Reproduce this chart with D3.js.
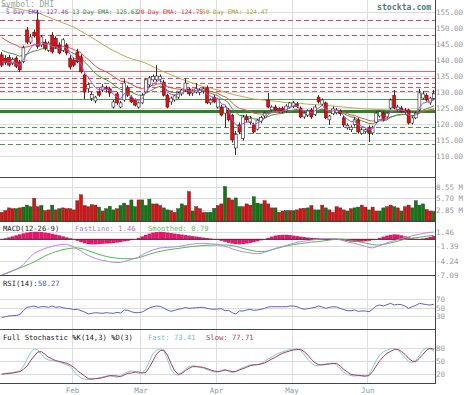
<!DOCTYPE html>
<html>
<head>
<meta charset="utf-8">
<script src="https://cdn.jsdelivr.net/npm/d3@7"></script>
<style>
  body { margin: 0; background: #fff; }
  svg { display: block; }
  text { font-family: "DejaVu Sans Mono", monospace; }
</style>
</head>
<body>
<svg id="chart" width="474" height="395"></svg>
<script>
// daily candles [open, high, low, close], first trading days of Jan .. late Jun
const candles = [
  [141.6,142.5,137.8,138.4],[140.5,141.5,138.5,139.2],[140.8,141.6,137.9,138.4],[139.0,140.8,138.4,140.2],
  [140.6,141.2,137.5,138.0],[139.4,140.0,136.2,136.9],[139.5,144.5,139.0,143.8],[149.4,150.3,145.0,145.6],
  [145.6,148.2,145.0,147.2],[148.7,149.5,147.0,147.5],[152.5,155.6,143.5,144.2],[144.7,147.8,144.0,147.2],
  [145.6,146.5,143.0,143.7],[143.0,145.8,142.5,145.3],[147.8,148.7,142.0,142.5],[146.8,147.4,143.5,144.0],
  [144.7,145.5,141.8,142.2],[143.0,146.8,142.5,146.3],[144.7,145.3,141.5,142.2],[140.6,141.5,137.0,137.8],
  [140.0,140.8,137.8,138.4],[142.5,143.5,139.0,139.4],[141.0,141.8,135.8,136.3],[135.3,135.8,127.8,130.0],
  [131.0,133.0,129.8,132.3],[128.0,130.0,127.2,129.2],[127.2,128.8,126.5,128.4],[130.0,131.2,128.5,129.0],
  [130.6,132.5,130.0,131.6],[131.3,132.0,129.8,131.0],[131.0,131.6,128.5,129.7],[125.3,127.5,124.8,126.9],
  [129.4,130.0,126.0,126.6],[125.3,127.2,124.9,126.6],[127.5,134.0,127.0,132.8],[131.3,132.0,128.5,129.0],
  [128.4,129.0,126.5,126.9],[127.5,128.0,125.5,125.9],[125.3,127.0,124.8,126.6],[126.6,129.6,126.2,129.0],
  [130.0,134.2,129.6,133.8],[132.2,135.0,131.5,134.4],[133.8,135.5,133.2,134.8],[133.8,138.4,133.0,135.0],
  [134.0,135.5,133.0,134.8],[133.1,133.8,128.6,129.0],[129.0,129.5,124.9,125.3],[126.9,128.6,126.0,128.1],
  [127.5,129.2,127.0,128.8],[128.4,130.0,127.8,129.7],[129.4,131.0,128.8,130.6],[130.6,134.4,130.0,132.8],
  [130.8,131.5,128.8,129.4],[129.7,130.8,128.8,130.3],[130.0,132.8,129.5,131.0],[129.8,131.2,129.0,130.6],
  [130.3,131.5,129.5,131.0],[131.3,132.0,126.2,126.6],[126.6,128.0,126.0,127.5],[128.4,129.0,126.5,126.9],
  [125.3,128.2,124.8,127.8],[125.3,126.0,122.4,122.8],[123.4,126.0,118.8,125.3],[124.4,125.0,120.8,121.3],
  [122.8,123.2,114.2,115.0],[112.5,117.8,110.3,116.8],[119.7,120.5,116.8,117.5],[115.5,122.8,114.8,122.2],
  [122.2,123.0,120.5,121.3],[120.5,122.5,119.8,121.8],[119.7,120.4,117.0,117.5],[118.4,121.6,118.0,121.2],
  [120.8,122.6,120.2,122.0],[122.5,124.0,121.8,123.4],[127.5,129.7,124.9,125.3],[124.4,125.8,123.8,125.3],
  [125.3,126.0,124.0,124.4],[124.8,125.2,123.5,124.1],[125.0,125.5,123.4,123.8],[124.1,126.2,123.5,125.6],
  [125.3,126.9,124.8,126.6],[125.5,127.2,125.0,126.6],[126.2,126.9,125.0,125.5],[125.0,125.5,121.8,122.2],
  [122.2,124.0,121.6,123.4],[122.8,124.6,122.2,124.1],[124.4,125.0,121.6,122.2],[123.0,126.0,122.5,125.3],
  [128.4,129.0,126.4,126.9],[126.2,128.0,125.8,127.5],[126.6,127.0,121.5,121.9],[121.3,122.8,119.7,122.5],
  [123.2,125.5,122.8,124.7],[123.5,125.0,123.0,124.4],[124.0,124.6,122.6,123.2],[121.9,122.5,119.0,119.7],
  [118.8,120.2,118.2,119.6],[118.2,119.6,117.5,119.0],[119.8,122.2,119.2,121.3],[121.3,122.0,117.0,117.5],
  [117.0,118.8,116.6,118.2],[117.6,118.6,117.0,118.2],[118.8,119.6,114.4,117.2],[117.2,119.5,116.6,119.0],
  [120.6,124.0,120.2,123.4],[122.5,124.2,122.0,123.8],[123.4,124.0,120.8,121.3],[122.2,123.8,121.8,123.4],
  [125.0,128.0,124.5,127.5],[129.0,130.6,124.6,125.0],[124.6,126.0,124.0,125.3],[125.0,125.6,123.4,123.8],
  [124.4,125.0,123.2,123.8],[124.4,124.8,119.8,120.3],[120.3,122.5,119.8,121.9],[121.9,123.8,121.5,123.4],
  [124.4,131.0,124.0,129.7],[128.1,130.3,127.6,129.4],[129.0,129.6,127.0,127.5],[126.6,128.5,126.0,128.1],
  [128.0,130.6,127.6,129.6]
];

const ema5 = [139.5,139.4,139.1,139.4,138.9,138.3,140.1,141.9,143.7,145.0,144.7,145.5,144.9,145.0,144.2,144.1,
  143.5,144.4,143.7,141.7,140.6,140.2,138.9,135.9,134.7,132.9,131.4,130.6,130.9,130.9,130.5,129.3,128.4,127.8,
  129.5,129.3,128.5,127.6,127.3,127.9,129.9,131.4,132.5,133.3,133.8,132.2,129.9,129.3,129.1,129.3,129.7,130.8,
  130.3,130.3,130.5,130.5,130.7,129.3,128.7,128.1,128.0,126.3,126.0,124.4,121.3,119.8,119.0,120.1,120.5,120.9,
  119.8,120.3,120.9,121.7,122.9,123.7,123.9,124.0,123.9,124.5,125.2,125.7,125.6,124.5,124.1,124.1,123.5,124.1,
  125.0,125.8,124.5,123.8,124.1,124.2,123.9,122.5,121.5,120.7,120.9,119.8,119.3,118.9,118.3,118.5,120.1,121.3,
  121.3,122.0,123.8,124.2,124.6,124.3,124.1,122.8,122.5,122.8,125.1,126.5,126.8,127.2,127.46];

const ema13 = [143.0,142.6,142.2,142.0,141.6,141.2,141.5,141.8,142.4,142.8,143.0,143.5,143.5,143.7,143.5,143.6,
  143.4,143.6,143.4,142.6,142.0,141.6,140.8,139.3,138.3,137.0,135.8,134.9,134.3,133.8,133.2,132.3,131.5,130.8,
  130.8,130.5,130.0,129.4,129.0,129.0,129.6,130.2,130.8,131.4,131.8,131.4,130.5,130.0,129.8,129.8,129.9,130.3,
  130.1,130.1,130.3,130.3,130.4,129.9,129.6,129.2,128.9,127.9,127.5,126.6,124.8,123.6,122.7,122.6,122.4,122.2,
  121.6,121.5,121.6,121.8,122.3,122.8,123.0,123.2,123.3,123.6,124.0,124.3,124.5,124.1,124.0,124.0,123.7,124.0,
  124.3,124.6,124.0,123.8,123.8,123.9,123.8,123.2,122.7,122.2,122.1,121.4,121.0,120.6,120.2,120.1,120.5,121.0,
  121.0,121.3,122.1,122.5,122.9,123.0,123.0,122.6,122.5,122.6,123.6,124.3,124.8,125.2,125.63];

const ema20 = [147.0,146.3,145.6,145.1,144.6,144.0,144.0,144.1,144.4,144.7,144.6,144.9,144.8,144.8,144.6,144.6,
  144.4,144.5,144.3,143.7,143.2,142.9,142.3,141.1,140.2,139.1,138.1,137.3,136.8,136.3,135.7,134.9,134.1,133.4,
  133.3,133.0,132.4,131.8,131.3,131.1,131.4,131.7,132.0,132.4,132.6,132.3,131.7,131.3,131.1,130.9,130.9,131.1,
  130.9,130.9,130.9,130.9,130.9,130.5,130.2,129.9,129.6,128.9,128.5,127.8,126.6,125.6,124.9,124.6,124.3,124.0,
  123.4,123.2,123.1,123.1,123.3,123.5,123.6,123.6,123.6,123.8,124.1,124.3,124.4,124.2,124.1,124.1,123.9,124.0,
  124.3,124.6,124.3,124.1,124.1,124.1,124.0,123.6,123.2,122.8,122.7,122.2,121.8,121.5,121.1,120.9,121.1,121.4,
  121.4,121.6,122.2,122.5,122.8,122.9,123.0,122.7,122.6,122.7,123.3,123.9,124.2,124.5,124.75];

const ema50 = [157.0,156.8,156.5,156.3,156.1,155.9,155.6,155.4,155.2,154.9,154.7,154.3,153.8,153.4,152.9,152.5,
  152.1,151.6,151.2,150.7,150.3,149.6,149.0,148.3,147.7,147.0,146.3,145.6,144.9,144.2,143.5,142.9,142.4,141.8,
  141.3,140.8,140.4,140.1,139.7,139.4,139.0,138.5,137.9,137.4,136.8,136.3,135.8,135.4,134.9,134.5,134.0,133.6,
  133.2,132.8,132.4,132.0,131.7,131.4,131.2,130.9,130.6,130.3,130.0,129.6,129.3,129.0,128.8,128.5,128.3,128.0,
  127.8,127.7,127.6,127.4,127.3,127.2,127.1,127.0,126.8,126.7,126.6,126.5,126.4,126.4,126.3,126.2,126.1,126.0,
  126.0,125.9,125.8,125.7,125.6,125.5,125.4,125.3,125.2,125.1,125.0,124.9,124.8,124.7,124.7,124.6,124.6,124.5,
  124.5,124.4,124.4,124.3,124.3,124.3,124.2,124.2,124.2,124.2,124.2,124.3,124.3,124.4,124.47];

// horizontal support / resistance levels
const redDashed = [152.5, 147.8, 134.4, 132.8, 131.6, 130.3];
const redSolid = [136.6];
const greenSolid = [127.8];
const greenThick = [124.1];
const greenDashed = [119.1, 117.2, 113.75];

// volume in millions, and up/down colour per day
const volume = [2.2,2.6,3.3,3.1,3.1,3.3,3.5,4.0,3.6,5.7,3.6,3.9,2.6,2.8,4.0,2.8,3.1,3.3,3.1,3.1,
  2.8,5.1,6.6,3.9,3.6,4.1,4.0,3.5,2.5,3.1,3.7,2.8,3.1,3.9,4.5,4.0,5.3,3.6,5.3,5.3,
  3.9,5.5,4.3,4.3,3.9,3.3,2.8,2.6,2.2,3.1,4.3,3.9,7.4,2.5,3.6,3.1,2.1,2.2,2.2,3.2,
  3.9,4.3,8.7,5.8,5.3,5.8,3.6,3.6,4.3,4.0,6.1,4.5,4.3,5.1,4.3,3.3,3.3,2.2,2.5,2.6,
  2.6,2.6,2.8,3.1,3.2,3.3,3.9,2.8,2.8,4.0,3.3,2.8,2.2,3.6,3.3,2.8,2.5,3.1,3.3,3.5,
  4.0,3.5,2.8,3.5,2.5,2.5,3.3,3.6,4.0,3.6,3.3,2.5,3.6,4.0,3.3,5.1,4.0,4.3,2.9,2.5,2.4];
const volDir = "rrrrgrgggr" + "rgrrgrgrrr" + "rrrrrrrgrg" + "ggrggrggrg" + "ggrrrggrrg" + "grrgrrrggg" +
  "rrgrrggrrr" + "gggrrrgrrg" + "rgrrrgrggr" + "grrrrrgrgg" + "rrgrrggrrg" + "rgrrggggrr" + "g";

// MACD(12,26,9)
const macdFast = [-7.1,-6.8,-6.5,-6.2,-5.9,-5.6,-5.0,-4.2,-3.4,-2.8,-2.4,-2.1,-1.8,-1.6,-1.4,-1.2,-1.1,-1.0,
  -1.0,-1.2,-1.5,-1.9,-2.3,-2.8,-3.2,-3.5,-3.8,-4.0,-4.2,-4.3,-4.45,-4.55,-4.6,-4.6,-4.4,-4.2,-4.0,-3.8,-3.5,
  -3.1,-2.7,-2.4,-2.1,-1.9,-1.7,-1.65,-1.6,-1.55,-1.5,-1.4,-1.3,-1.15,-1.05,-0.95,-0.85,-0.8,-0.8,-0.85,-0.9,
  -0.95,-1.0,-1.2,-1.4,-1.6,-1.9,-2.1,-2.3,-2.45,-2.6,-2.7,-2.8,-2.8,-2.8,-2.6,-2.3,-2.05,-1.8,-1.6,-1.4,-1.2,
  -1.0,-0.8,-0.6,-0.47,-0.35,-0.25,-0.15,-0.05,0.03,0.07,0.12,0.17,0.2,0.1,-0.1,-0.3,-0.5,-0.65,-0.8,-1.0,-1.2,
  -1.4,-1.6,-1.7,-1.5,-1.25,-1.0,-0.7,-0.45,-0.25,-0.05,0.15,0.35,0.52,0.7,0.85,1.0,1.15,1.3,1.4,1.46];
const macdSignal = [-7.1,-6.85,-6.6,-6.3,-6.0,-5.7,-5.4,-5.1,-4.8,-4.5,-4.1,-3.7,-3.3,-3.0,-2.7,-2.45,-2.25,
  -2.05,-1.9,-1.8,-1.72,-1.7,-1.8,-2.0,-2.25,-2.5,-2.75,-3.0,-3.2,-3.4,-3.55,-3.65,-3.75,-3.8,-3.85,-3.85,-3.85,
  -3.8,-3.65,-3.45,-3.2,-2.95,-2.75,-2.55,-2.4,-2.25,-2.1,-2.0,-1.9,-1.8,-1.7,-1.6,-1.5,-1.42,-1.35,-1.28,-1.22,
  -1.18,-1.15,-1.13,-1.12,-1.12,-1.13,-1.15,-1.25,-1.4,-1.6,-1.8,-2.0,-2.15,-2.3,-2.4,-2.45,-2.4,-2.3,-2.1,-1.9,
  -1.7,-1.5,-1.35,-1.2,-1.05,-0.95,-0.85,-0.75,-0.65,-0.55,-0.5,-0.45,-0.35,-0.25,-0.15,-0.05,0.05,0.07,0.0,
  -0.1,-0.2,-0.3,-0.45,-0.6,-0.75,-0.9,-1.05,-1.13,-1.1,-1.0,-0.85,-0.7,-0.55,-0.35,-0.15,0.0,0.12,0.22,0.32,
  0.42,0.52,0.62,0.72,0.79];
const macdHist = [0,0.2,0.4,0.6,0.8,1.0,1.2,1.35,1.45,1.5,1.5,1.45,1.35,1.25,1.1,0.95,0.8,0.6,0.4,0.2,0,-0.3,
  -0.55,-0.8,-0.95,-1.0,-1.0,-0.95,-0.9,-0.85,-0.8,-0.75,-0.65,-0.55,-0.4,-0.3,-0.15,0,0.3,0.6,0.9,1.15,1.35,
  1.45,1.5,1.45,1.35,1.25,1.15,1.05,0.95,0.85,0.75,0.65,0.55,0.45,0.35,0.25,0.15,0.05,-0.05,-0.3,-0.5,-0.7,
  -0.85,-0.95,-1.0,-0.95,-0.85,-0.7,-0.55,-0.4,-0.2,0.05,0.3,0.55,0.75,0.85,0.9,0.9,0.85,0.75,0.65,0.55,0.45,
  0.35,0.3,0.25,0.2,0.15,0.1,0.05,0.05,-0.05,-0.15,-0.25,-0.35,-0.45,-0.5,-0.5,-0.45,-0.4,-0.3,-0.15,0.05,0.3,
  0.55,0.75,0.9,1.0,0.95,0.8,0.6,0.4,0.25,0.1,0.05,0.15,0.3,0.5,0.65];

// RSI(14)
const rsi = [26.7,29,30.6,31.4,32,33.7,43,51,52.5,54,51,52.5,52.5,51,54,51,52.5,50,48.6,47.8,45.5,46.3,43,40,
  35.3,36.9,38.4,37.6,36.9,38.4,37.6,36.9,39.2,37.6,44.7,44,40.8,38.4,38.4,40,44.7,49.4,52.5,54,53.3,49.4,44.7,
  41.6,44,46.3,47.8,51,48.6,49.4,50,51,51,48.6,47,46.3,47,47.8,43,44,38.4,35.3,42.4,42.4,44.7,46.3,43.9,44.7,
  46.3,48.6,51.8,52.5,52.5,52.5,52.5,52.5,54,54,52.5,48.6,46.3,47.8,49.4,51,54,51.8,48.6,51,52.5,51.8,48.6,45.5,
  43,43,44.7,41.6,42.4,42.4,40.8,46.3,54,56.5,54,57.3,60.4,56.5,58,57.3,54,48.6,52.5,55.7,60.4,58.8,57.3,56.5,
  58.27];

// Full stochastic %K(14,3) %D(3)
const stochFast = [21,22,23,24,26,28,38,55,70,78,77,66,57,53,52,50,48,45,42,38,28,18,12,9,8,9,10,12,14,16,17,
  15,13,17,22,26,28,26,22,24,32,50,68,76,79,74,55,32,20,18,24,32,38,40,39,37,34,31,28,26,25,29,31,27,24,26,32,
  36,39,42,43,42,45,50,55,60,65,69,72,75,77,78,79,75,66,55,46,40,41,43,44,45,46,42,33,25,20,17,16,17,16,15,20,
  35,52,65,72,76,79,80,76,68,58,50,47,52,64,76,81,79,73.41];
const stochSlow = [20,21.5,22.3,23,24.6,26.2,31.5,39.3,51.6,62.4,71.6,72.4,66.2,59.3,55.4,51.6,50,47.7,45.4,
  41.6,36.2,28.5,22.3,16.2,10,9.2,10,10.8,12.3,14.6,16.9,16.9,16.2,14.6,18.5,22.3,23,25.4,25.4,23,24.6,36.2,51.6,
  67,74.6,76.2,64.7,45.4,28.5,20,22.3,28.5,33.9,37.7,37.7,36.9,36.2,33.1,30,27.7,26.2,27.7,30,28.5,26.2,26.9,30,
  33.1,36.2,40,41.6,42.4,43.9,46.2,50.8,55.4,59.3,64.7,68.6,71.6,73.9,76.2,77,77.8,72.4,64.7,54.6,46.9,42.4,41.6,
  43.1,43.9,44.7,45.4,39.3,31.5,25.4,20,18.5,17.7,16.9,16.2,16.9,26.2,39.3,51.6,60.8,68.6,73.1,77,77.8,73.1,66.2,
  57,50.8,49.3,57,66.2,76.2,80,77.71];

const monthTicks = [
  { label: "Feb", i: 20 }, { label: "Mar", i: 39 }, { label: "Apr", i: 60 },
  { label: "May", i: 81 }, { label: "Jun", i: 102 }
];
const priceTicks = [110, 115, 120, 125, 130, 135, 140, 145, 150, 155];
const volTicks = [2.85, 5.70, 8.55];
const macdTicks = [-7.09, -4.24, -1.39, 1.46];
const rsiTicks = [30, 50, 70];
const stochTicks = [20, 50, 80];

const svg = d3.select("#chart");
const n = candles.length;
const W = 435.6;
const R = 435; // right border

const x = d3.scaleBand().domain(d3.range(n)).range([0, W]).paddingInner(0.2).paddingOuter(0.1);
const xl = d3.scaleLinear().domain([0, n]).range([0, W]);
const cx = i => xl(i + 0.5);

const yP = d3.scaleLinear().domain([110, 155]).range([156, 12]);
const yV = d3.scaleLinear().domain([0, 8.55]).range([221, 187]);
const yM = d3.scaleLinear().domain([-7.09, 1.46]).range([275, 232]);
const yR = d3.scaleLinear().domain([0, 100]).range([329, 286.5]);
const yS = d3.scaleLinear().domain([0, 100]).range([383, 339.7]);

const panels = [
  { top: 0, bot: 177, y: yP, ticks: priceTicks, fmt: d => d.toFixed(2) },
  { top: 177, bot: 221, y: yV, ticks: volTicks, fmt: d => d.toFixed(2) + " M" },
  { top: 221, bot: 275, y: yM, ticks: macdTicks, fmt: d => d.toFixed(2) },
  { top: 275, bot: 329, y: yR, ticks: rsiTicks, fmt: d => d },
  { top: 329, bot: 383, y: yS, ticks: stochTicks, fmt: d => d }
];

const crisp = v => Math.round(v) + 0.5;

// grid
const grid = svg.append("g").attr("stroke", "#dcdcdc").attr("stroke-width", 1);
panels.forEach(p => {
  p.ticks.forEach(t => {
    grid.append("line").attr("x1", 0).attr("x2", R)
      .attr("y1", crisp(p.y(t))).attr("y2", crisp(p.y(t)));
  });
});
monthTicks.forEach(m => {
  grid.append("line").attr("x1", crisp(xl(m.i))).attr("x2", crisp(xl(m.i)))
    .attr("y1", 0).attr("y2", 383);
});

// axis labels on the right
panels.forEach(p => {
  const ax = svg.append("g")
    .attr("transform", "translate(" + R + ",0)")
    .call(d3.axisRight(p.y).tickValues(p.ticks).tickSize(0).tickPadding(1).tickFormat(p.fmt));
  ax.select(".domain").remove();
  ax.selectAll("text").attr("font-family", "DejaVu Sans Mono, monospace")
    .attr("font-size", 7.5).attr("fill", "#9a9a9a");
});

// month labels
const mAx = svg.append("g")
  .attr("transform", "translate(0,383)")
  .call(d3.axisBottom(xl).tickValues(monthTicks.map(m => m.i)).tickSize(0).tickPadding(5)
    .tickFormat((d, k) => monthTicks[k].label));
mAx.select(".domain").remove();
mAx.selectAll("text").attr("font-family", "DejaVu Sans Mono, monospace")
  .attr("font-size", 7.5).attr("fill", "#8c9cb0");

// main panel clip
svg.append("clipPath").attr("id", "mainClip")
  .append("rect").attr("x", 0).attr("y", 0).attr("width", R).attr("height", 177);
const main = svg.append("g").attr("clip-path", "url(#mainClip)");

// support / resistance
function hlines(levels, color, width, dash) {
  levels.forEach(v => {
    main.append("line").attr("x1", 0).attr("x2", R)
      .attr("y1", crisp(yP(v))).attr("y2", crisp(yP(v)))
      .attr("stroke", color).attr("stroke-width", width)
      .attr("stroke-dasharray", dash || null);
  });
}
hlines(redDashed, "#f04a5a", 1, "5,3");
hlines(redSolid, "#ec6060", 1.2);
hlines(greenDashed, "#44a044", 1, "5,3");
hlines(greenSolid, "#44a044", 1.2);
hlines(greenThick, "#2a842a", 3);

// EMA lines
function emaLine(vals, color) {
  main.append("path").datum(vals)
    .attr("fill", "none").attr("stroke", color).attr("stroke-width", 1)
    .attr("d", d3.line().x((d, i) => cx(i)).y(d => yP(d)));
}
emaLine(ema50, "#b8aa55");
emaLine(ema20, "#e05050");
emaLine(ema13, "#3c9c3c");

// candles
const cg = main.append("g");
candles.forEach((c, i) => {
  const [o, h, l, cl] = c;
  const up = cl >= o;
  cg.append("line").attr("x1", crisp(cx(i) - 0.5)).attr("x2", crisp(cx(i) - 0.5))
    .attr("y1", yP(h)).attr("y2", yP(l)).attr("stroke", "#333").attr("stroke-width", 1);
  const top = yP(Math.max(o, cl)), bot = yP(Math.min(o, cl));
  cg.append("rect").attr("x", x(i)).attr("y", top)
    .attr("width", x.bandwidth()).attr("height", Math.max(1, bot - top))
    .attr("fill", up ? "#ffffff" : "#e01010")
    .attr("stroke", up ? "#222" : "#7a0000").attr("stroke-width", 0.6);
});
emaLine(ema5, "#a45ad0");

// volume bars
svg.append("g").selectAll("rect").data(volume).join("rect")
  .attr("x", (d, i) => xl(i) + 0.2)
  .attr("width", x.step() - 0.4)
  .attr("y", d => yV(d))
  .attr("height", d => yV(0) - yV(d))
  .attr("fill", (d, i) => volDir[i] === "g" ? "#0f7a0f" : "#e01010")
  .attr("stroke", "#333").attr("stroke-width", 0.4);

// MACD histogram, lines
svg.append("g").selectAll("rect").data(macdHist).join("rect")
  .attr("x", (d, i) => xl(i))
  .attr("width", x.step() + 0.1)
  .attr("y", d => Math.min(yM(d), yM(0)))
  .attr("height", d => Math.abs(yM(d) - yM(0)))
  .attr("fill", "#e2186e");
svg.append("line").attr("x1", 0).attr("x2", R)
  .attr("y1", yM(0)).attr("y2", yM(0)).attr("stroke", "#5a1a30").attr("stroke-width", 1);
const lineM = d3.line().x((d, i) => cx(i)).y(d => yM(d));
svg.append("path").datum(macdSignal).attr("fill", "none").attr("stroke", "#4cbc4c").attr("d", lineM);
svg.append("path").datum(macdFast).attr("fill", "none").attr("stroke", "#b889e0").attr("d", lineM);

// RSI
svg.append("path").datum(rsi).attr("fill", "none").attr("stroke", "#5a64c0").attr("stroke-width", 1)
  .attr("d", d3.line().x((d, i) => cx(i)).y(d => yR(d)));

// stochastic
const lineS = d3.line().x((d, i) => cx(i)).y(d => yS(d));
svg.append("path").datum(stochFast).attr("fill", "none").attr("stroke", "#7fd0c8").attr("d", lineS);
svg.append("path").datum(stochSlow).attr("fill", "none").attr("stroke", "#a83a60").attr("d", lineS);

// panel borders
const border = svg.append("g").attr("stroke", "#444").attr("stroke-width", 1);
[177, 221, 275, 329, 383].forEach(v => {
  border.append("line").attr("x1", 0).attr("x2", R + 0.5).attr("y1", v + 0.5).attr("y2", v + 0.5);
});
border.append("line").attr("x1", R + 0.5).attr("x2", R + 0.5).attr("y1", 0).attr("y2", 384);

// texts
function label(t, xPos, yPos, color, size, weight) {
  svg.append("text").attr("x", xPos).attr("y", yPos).attr("fill", color)
    .attr("font-size", size).attr("font-weight", weight || null).text(t);
}
label("Symbol: DHI", 1, 7, "#8fa8a4", 8);
label("stockta.com", 377, 10, "#4f7d7d", 8.2, "bold");
label("5 Day EMA: 127.46", 6, 13.5, "#8a3cb4", 6.1);
label("13 Day EMA: 125.63", 72, 13.5, "#2e8a2e", 6.1);
label("20 Day EMA: 124.75", 137, 13.5, "#e03030", 6.1);
label("50 Day EMA: 124.47", 202, 13.5, "#a8a030", 6.1);

label("MACD(12-26-9)", 3, 231, "#222", 7.2);
label("FastLine: 1.46", 75, 231, "#b07ad8", 7.2);
label("Smoothed: 0.79", 148, 231, "#5ac05a", 7.2);

label("RSI(14):", 3, 286, "#222", 7.2);
label("58.27", 38, 286, "#4a5ab8", 7.2);

label("Full Stochastic %K(14,3) %D(3)", 3, 340, "#222", 7.2);
label("Fast: 73.41", 148, 340, "#78c4bc", 7.2);
label("Slow: 77.71", 206, 340, "#a8405e", 7.2);
</script>
</body>
</html>
